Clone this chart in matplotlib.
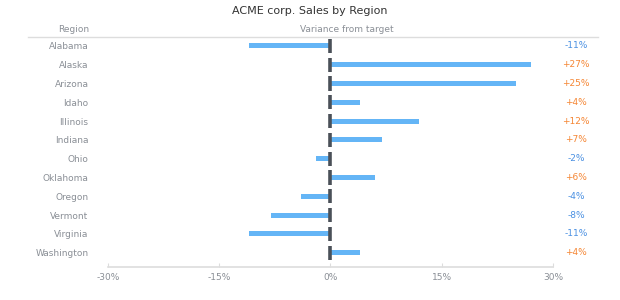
import numpy as np
import matplotlib
matplotlib.use("Agg")
import matplotlib.pyplot as plt
from matplotlib.lines import Line2D
from matplotlib.transforms import blended_transform_factory

# data
regions = ["Alabama", "Alaska", "Arizona", "Idaho", "Illinois", "Indiana",
           "Ohio", "Oklahoma", "Oregon", "Vermont", "Virginia", "Washington"]
variance = [-11, 27, 25, 4, 12, 7, -2, 6, -4, -8, -11, 4]
xticks = [-30, -15, 0, 15, 30]

grey = "#8a8f96"
bar_col = "#64b5f6"
neg_col = "#4a90e2"
pos_col = "#f58634"

plt.rcParams['font.family'] = ['DejaVu Sans']

fig = plt.figure(figsize=(6.2, 3.0), dpi=100)
ax = fig.add_axes([0.174, 0.11, 0.718, 0.767])

y = np.arange(len(regions))
ax.barh(y, variance, height=0.27, color=bar_col, zorder=2)
# target markers at zero
ax.vlines(np.zeros(len(regions)), y - 0.38, y + 0.38, color="#4a5058", lw=2.6, zorder=3)

ax.set_xlim(-30, 30)
ax.set_ylim(11.76, -0.48)
ax.set_xticks(xticks)
ax.set_xticklabels([f"{t}%" for t in xticks], color=grey, fontsize=6.5)
ax.set_yticks(y)
ax.set_yticklabels(regions, color=grey, fontsize=6.5)
ax.tick_params(axis="y", length=0, pad=14)
ax.tick_params(axis="x", direction="in", length=3, color="#dddddd", pad=4)

for s in ["top", "right", "left"]:
    ax.spines[s].set_visible(False)
ax.spines["bottom"].set_color("#dddddd")
ax.spines["bottom"].set_linewidth(1.2)

# value labels on the right
tr = blended_transform_factory(ax.transAxes, ax.transData)
for yi, v in zip(y, variance):
    txt = f"+{v}%" if v > 0 else f"{v}%"
    ax.text(1.052, yi, txt, transform=tr, ha="center", va="center",
            fontsize=6.5, color=pos_col if v > 0 else neg_col)

# header
fig.text(0.5, 0.965, "ACME corp. Sales by Region", ha="center", va="center",
         fontsize=8, color="#333333")
fig.text(0.144, 0.903, "Region", ha="right", va="center", fontsize=6.5, color=grey)
fig.text(0.174 + 0.718 * 0.537, 0.903, "Variance from target", ha="center",
         va="center", fontsize=6.5, color=grey)
fig.add_artist(Line2D([0.045, 0.965], [0.877, 0.877], transform=fig.transFigure,
                      color="#dddddd", lw=1))

fig.savefig("out.png", dpi=100)
